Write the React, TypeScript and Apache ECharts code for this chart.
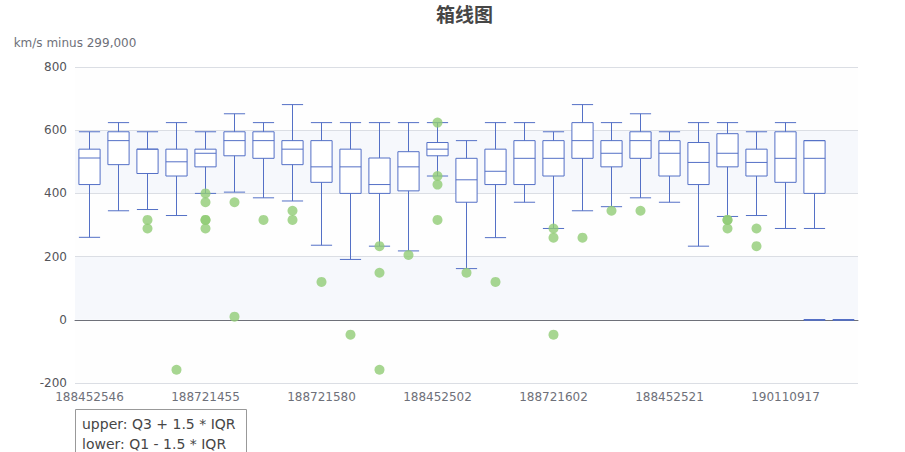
import { useEffect, useRef } from "react";
import * as echarts from "echarts";

// category names (only every 4th one is labelled on the axis)
const categories = [
  "188452546", "188452551", "188452563", "188721448",
  "188721455", "188721461", "188721473", "188721577",
  "188721580", "188721592", "188452498", "188452500",
  "188452502", "188452509", "188721597", "188721600",
  "188721602", "188721610", "188452515", "188452518",
  "188452521", "188452527", "190110902", "190110911",
  "190110917", "190110924", "190110930",
];

// [min, Q1, median, Q3, max]
const boxValues = [
  [261, 428, 512, 540, 595],
  [345, 491, 567, 595, 624],
  [349, 463, 540, 540, 595],
  [330, 455, 500, 540, 624],
  [400, 484, 527, 540, 595],
  [404, 519, 567, 595, 652],
  [386, 511, 567, 595, 624],
  [376, 491, 540, 567, 681],
  [236, 435, 484, 567, 624],
  [191, 400, 484, 540, 624],
  [233, 400, 428, 512, 624],
  [218, 408, 484, 532, 624],
  [455, 519, 540, 561, 624],
  [162, 372, 443, 511, 567],
  [260, 428, 470, 540, 624],
  [372, 428, 511, 567, 624],
  [289, 455, 511, 567, 595],
  [345, 511, 567, 624, 681],
  [358, 484, 527, 567, 624],
  [386, 511, 567, 595, 652],
  [372, 455, 527, 567, 595],
  [233, 428, 498, 561, 624],
  [327, 484, 527, 589, 624],
  [330, 455, 498, 540, 595],
  [289, 435, 511, 595, 624],
  [289, 400, 511, 567, 567],
  [0, 0, 0, 0, 0],
];

// second (empty) box drawn on the same category
const zeroLineCats = ["190110924"];
const zeroBox = [0, 0, 0, 0, 0];

// [category index, value]
const outliers = [
  [2, 316], [2, 289],
  [3, -158],
  [4, 400], [4, 372], [4, 316], [4, 316], [4, 289],
  [5, 372], [5, 10],
  [6, 316],
  [7, 345], [7, 316],
  [8, 120],
  [9, -47],
  [10, 233], [10, 149], [10, -158],
  [11, 205],
  [12, 624], [12, 455], [12, 428], [12, 316],
  [13, 149],
  [14, 120],
  [16, 289], [16, 260], [16, -47],
  [17, 260],
  [18, 345],
  [19, 345],
  [22, 316], [22, 316], [22, 289],
  [23, 289], [23, 233],
];

export default function App() {
  const chartRef = useRef<HTMLDivElement>(null);

  useEffect(() => {
    if (!chartRef.current) return;
    const chart = echarts.init(chartRef.current, null, { renderer: "svg" });

    const extraBoxes = categories.map((c) =>
      zeroLineCats.includes(c) ? zeroBox : "-"
    );

    chart.setOption({
      animation: false,
      textStyle: { fontFamily: "DejaVu Sans, Noto Sans CJK SC, sans-serif" },
      title: [
        {
          text: "箱线图",
          left: 431,
          top: 0,
          textStyle: { fontSize: 19, fontWeight: "bold", color: "#464646" },
        },
        {
          text: "upper: Q3 + 1.5 * IQR \nlower: Q1 - 1.5 * IQR",
          left: 75,
          top: 409,
          padding: [5, 7],
          borderColor: "#999",
          borderWidth: 1,
          textStyle: {
            fontWeight: "normal",
            fontSize: 14,
            lineHeight: 20,
            color: "#464646",
          },
        },
      ],
      tooltip: { show: false },
      grid: { left: 75, right: 47, top: 67, bottom: 69 },
      xAxis: [
        {
          type: "category",
          data: categories,
          boundaryGap: true,
          axisLine: { lineStyle: { color: "#6E7079" } },
          axisLabel: { show: false },
          axisTick: { interval: 3 },
          splitLine: { show: false },
        },
        {
          type: "category",
          data: categories,
          position: "bottom",
          boundaryGap: true,
          axisLine: { show: false, onZero: false },
          axisTick: { show: false },
          axisLabel: { interval: 3, color: "#6E7079" },
          splitLine: { show: false },
        },
      ],
      yAxis: {
        type: "value",
        name: "km/s minus 299,000",
        nameGap: 18,
        nameTextStyle: { color: "#6E7079" },
        min: -200,
        max: 800,
        interval: 200,
        splitArea: {
          show: true,
          areaStyle: {
            color: ["rgba(250,250,250,0.2)", "rgba(210,219,238,0.2)"],
          },
        },
      },
      series: [
        {
          name: "boxplot",
          type: "boxplot",
          xAxisIndex: 0,
          data: boxValues,
          itemStyle: { color: "#fff", borderColor: "#5470c6", borderWidth: 1 },
        },
        {
          name: "empty",
          type: "boxplot",
          xAxisIndex: 1,
          data: extraBoxes,
          itemStyle: { color: "#fff", borderColor: "#5470c6", borderWidth: 1 },
        },
        {
          name: "outlier",
          type: "scatter",
          xAxisIndex: 0,
          symbolSize: 10,
          itemStyle: { color: "#91cc75" },
          data: outliers,
        },
      ],
    });

    return () => {
      chart.dispose();
    };
  }, []);

  return (
    <div
      ref={chartRef}
      style={{ position: "absolute", left: 0, top: 0, width: 905, height: 452 }}
    />
  );
}
